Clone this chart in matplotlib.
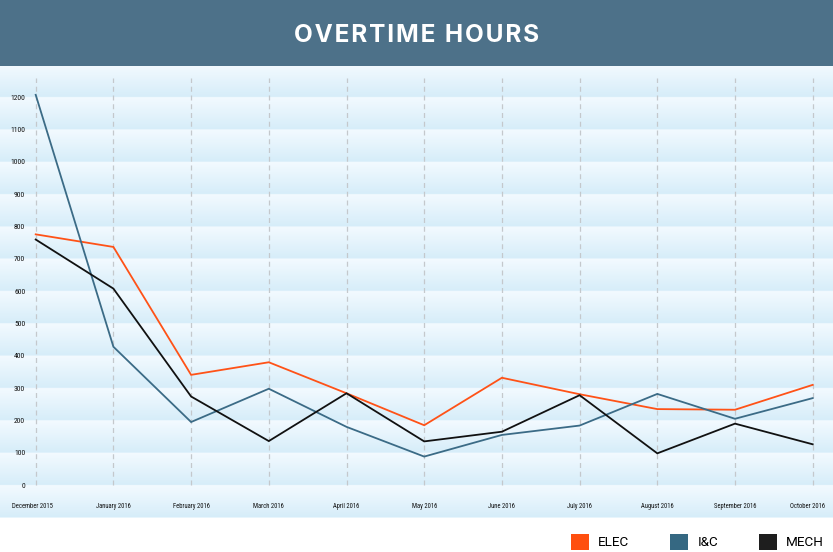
import numpy as np
import matplotlib
matplotlib.use("Agg")
import matplotlib.pyplot as plt
from matplotlib import font_manager
from matplotlib.patches import Patch, Rectangle
from matplotlib.transforms import ScaledTranslation

months = ["December 2015", "January 2016", "February 2016", "March 2016", "April 2016",
          "May 2016", "June 2016", "July 2016", "August 2016", "September 2016", "October 2016"]
elec = [776, 737, 341, 380, 284, 185, 332, 281, 235, 233, 310]
ic = [1208, 428, 195, 298, 180, 88, 155, 184, 282, 205, 269]
mech = [760, 608, 274, 136, 284, 135, 165, 278, 98, 190, 126]
yticks = [0, 100, 200, 300, 400, 500, 600, 700, 800, 900, 1000, 1100, 1200]
series_names = ["ELEC", "I&C", "MECH"]
line_colors = ["#ff5217", "#3b6b86", "#111111"]
legend_colors = ["#ff4f0f", "#356882", "#1e1e1e"]

names = {f.name for f in font_manager.fontManager.ttflist}
narrow = None
for cand in ["Liberation Sans Narrow", "Roboto Condensed", "Open Sans Condensed", "DejaVu Sans"]:
    if cand in names:
        narrow = cand
        break

W, H = 833, 552
fig = plt.figure(figsize=(W / 100, H / 100), dpi=100)
fig.patch.set_facecolor("white")

# header
hdr_h = 65.7
fig.patches.append(Rectangle((0, 1 - hdr_h / H), 1, hdr_h / H, transform=fig.transFigure,
                             facecolor="#4d7189", edgecolor="none", zorder=0))
title = "\u200a".join("OVERTIME HOURS")
fig.text(0.5, 1 - 35.5 / H, title, ha="center", va="center", color="white",
         fontsize=17.5, fontweight="bold", family=["Inter", "DejaVu Sans"])

# axes area
bg_top, bg_bot = 65.7, 517.7
ax = fig.add_axes([0, 1 - bg_bot / H, 1, (bg_bot - bg_top) / H])
step = 77.7
x0 = 35.7
ax.set_xlim(-x0 / step, (W - x0) / step)
zero_px = 485.0
ppu = 0.323
ylo = -(bg_bot - zero_px) / ppu
yhi = (zero_px - bg_top) / ppu
ax.set_ylim(ylo, yhi)

# banded gradient background
yy = np.linspace(ylo, yhi, 1400)
frac = np.mod(yy, 100) / 100.0
light = np.array([0xf3, 0xfa, 0xff]) / 255
dark = np.array([0xd6, 0xed, 0xf9]) / 255
img = dark[None, :] + frac[:, None] * (light - dark)[None, :]
img = img[:, None, :]
ax.imshow(img, extent=[ax.get_xlim()[0], ax.get_xlim()[1], ylo, yhi], origin="lower",
          aspect="auto", zorder=0, interpolation="bilinear")

x = np.arange(len(months))
for xi in x:
    ax.plot([xi, xi], [0, 1260], color="#c4c8cc", lw=0.9, ls=(0, (4, 3)), zorder=1)

for vals, c in zip([elec, ic, mech], line_colors):
    ax.plot(x, vals, color=c, lw=1.3, zorder=3, solid_joinstyle="miter")

for s in ax.spines.values():
    s.set_visible(False)
ax.set_yticks(yticks)
ax.set_yticklabels([str(v) for v in yticks], fontsize=5.5, family=narrow,
                   fontstretch="condensed", color="#111111")
ax.tick_params(axis="y", length=0, pad=-25.3 * 0.72)
ax.set_xticks(x)
ax.set_xticklabels(months, fontsize=4.8, family=narrow, fontstretch="condensed",
                   color="#111111")
ax.tick_params(axis="x", length=0, pad=-15.0 * 0.72)
xl = ax.get_xticklabels()
xl[0].set_transform(xl[0].get_transform() + ScaledTranslation(-3 / 100, 0, fig.dpi_scale_trans))
xl[-1].set_transform(xl[-1].get_transform() + ScaledTranslation(-5 / 100, 0, fig.dpi_scale_trans))

handles = [Patch(facecolor=c, edgecolor="none") for c in legend_colors]
fs = 9.7
leg = fig.legend(handles, series_names, loc="center left",
                 bbox_to_anchor=(571 / W, 1 - 542 / H), ncol=3, frameon=False,
                 prop={"family": ["Roboto", "DejaVu Sans"], "size": fs},
                 handlelength=1.35, handleheight=1.4, handletextpad=0.68,
                 columnspacing=3.0, borderpad=0, borderaxespad=0)

fig.savefig("out.png", dpi=100)
